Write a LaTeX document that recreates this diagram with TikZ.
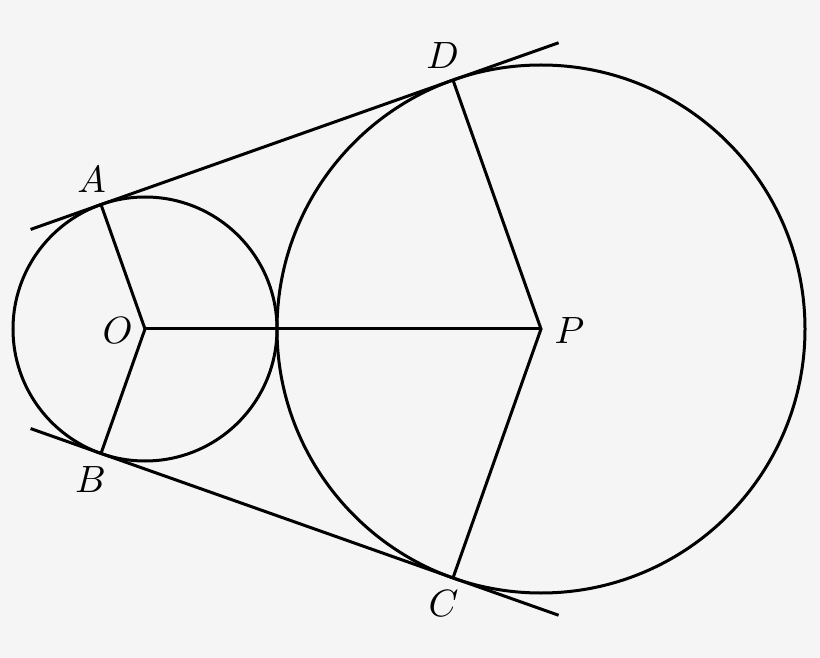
\documentclass[tikz,border=0pt]{standalone}
\usepackage{graphicx}
\usetikzlibrary{calc}
\definecolor{bg}{HTML}{F5F5F5}
\newcommand{\biglbl}[1]{\scalebox{1.9}{$#1$}}
\begin{document}
\begin{tikzpicture}[x=66pt,y=66pt, line width=1.5pt,
  lbl/.style={font=\normalsize, inner sep=0pt}]
\fill[bg] (-1.0985,-2.4924) rectangle (5.1136,2.4924);
\useasboundingbox (-1.0985,-2.4924) rectangle (5.1136,2.4924);
\coordinate (O) at (0,0);
\coordinate (P) at (3,0);
\coordinate (A) at (-0.333333, 0.942809);
\coordinate (B) at (-0.333333,-0.942809);
\coordinate (D) at (2.333333, 1.885618);
\coordinate (C) at (2.333333,-1.885618);
\draw (O) circle (1);
\draw (P) circle (2);
\draw ($(A)!-0.2!(D)$) -- ($(A)!1.3!(D)$);
\draw ($(B)!-0.2!(C)$) -- ($(B)!1.3!(C)$);
\draw (A) -- (O) -- (B);
\draw (D) -- (P) -- (C);
\draw (O) -- (P);
\node[lbl] (lA) at (-0.405, 1.129) {\biglbl{A}};
\node[lbl] (lB) at (-0.413,-1.144) {\biglbl{B}};
\node[lbl] (lC) at (2.261,-2.083) {\biglbl{C}};
\node[lbl] (lD) at (2.254, 2.072) {\biglbl{D}};
\node[lbl] (lO) at (-0.208,-0.011) {\biglbl{O}};
\node[lbl] (lP) at (3.216,-0.008) {\biglbl{P}};
\end{tikzpicture}
\end{document}
